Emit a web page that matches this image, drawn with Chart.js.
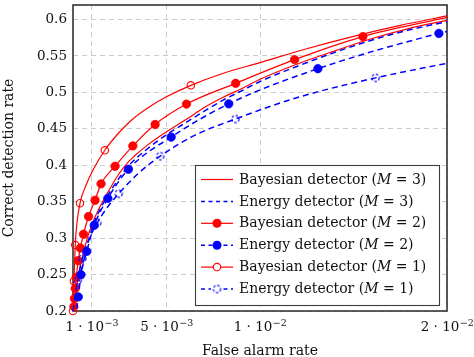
<!DOCTYPE html>
<html><head><meta charset="utf-8">
<script src="https://cdn.jsdelivr.net/npm/chart.js@4.4.1/dist/chart.umd.min.js"></script>
<style>html,body{margin:0;padding:0;background:#fff;}canvas{display:block;}</style>
</head><body>
<canvas id="c" width="474" height="357"></canvas>
<script>
// ---- axis ticks / titles ----
const xTicks = [0.001, 0.005, 0.01, 0.02];
const xTickMantissas = ['1', '5', '1', '2'];
const xTickExponents = ['\u22123', '\u22123', '\u22122', '\u22122'];
const yTicks = [0.2, 0.25, 0.3, 0.35, 0.4, 0.45, 0.5, 0.55, 0.6];
const yTickLabels = ['0.2', '0.25', '0.3', '0.35', '0.4', '0.45', '0.5', '0.55', '0.6'];
const xTitle = 'False alarm rate';
const yTitle = 'Correct detection rate';

// ---- legend ----
const seriesNames = ['Bayesian detector', 'Energy detector', 'Bayesian detector', 'Energy detector', 'Bayesian detector', 'Energy detector'];
const seriesM = ['3', '3', '2', '2', '1', '1'];

// ---- series ----
const bayesM3X = [0, 0.0001, 0.0003, 0.0006, 0.001, 0.0014, 0.0018, 0.0024, 0.0029, 0.0033, 0.004, 0.005, 0.006, 0.007, 0.008, 0.009, 0.01, 0.012, 0.014, 0.016, 0.018, 0.02];
const bayesM3Y = [0.2, 0.218, 0.25, 0.285, 0.318, 0.341, 0.36, 0.386, 0.403, 0.413, 0.428, 0.446, 0.462, 0.479, 0.493, 0.505, 0.518, 0.539, 0.557, 0.574, 0.588, 0.599];
const bayesM3Marks = [];

const energyM3X = [0, 0.0001, 0.0003, 0.0006, 0.001, 0.0014, 0.0018, 0.0024, 0.003, 0.004, 0.005, 0.006, 0.007, 0.008, 0.009, 0.01, 0.012, 0.014, 0.016, 0.018, 0.02];
const energyM3Y = [0.2, 0.21, 0.238, 0.272, 0.312, 0.337, 0.356, 0.38, 0.4, 0.423, 0.442, 0.458, 0.474, 0.489, 0.502, 0.515, 0.536, 0.555, 0.572, 0.586, 0.597];
const energyM3Marks = [];

const bayesM2X = [0.000048, 0.000075, 0.000118, 0.000177, 0.000279, 0.000391, 0.000562, 0.00083, 0.00118, 0.0015, 0.00225, 0.0032, 0.00439, 0.00607, 0.0087, 0.01185, 0.0155, 0.02];
const bayesM2Y = [0.206, 0.217, 0.231, 0.2465, 0.269, 0.2864, 0.3054, 0.3297, 0.352, 0.3745, 0.3986, 0.4266, 0.456, 0.484, 0.5125, 0.545, 0.5766, 0.603];
const bayesM2Marks = bayesM2X.filter(x => x < 0.02);

const energyM2X = [0.00019, 0.000284, 0.000428, 0.000734, 0.001136, 0.001864, 0.002962, 0.005249, 0.008329, 0.013096, 0.019566, 0.02];
const energyM2Y = [0.203, 0.2194, 0.2498, 0.2818, 0.3177, 0.3546, 0.3946, 0.4387, 0.4843, 0.5326, 0.581, 0.5835];
const energyM2Marks = energyM2X.filter(x => x > 0.0002 && x < 0.02);

const bayesM1X = [0, 0.00005, 0.00012, 0.0002, 0.000375, 0.0007, 0.0011, 0.0017, 0.0025, 0.0032, 0.0042, 0.005, 0.0063, 0.008, 0.01, 0.0125, 0.015, 0.0175, 0.02];
const bayesM1Y = [0.2, 0.241, 0.2905, 0.318, 0.348, 0.373, 0.395, 0.4206, 0.446, 0.4636, 0.482, 0.494, 0.5097, 0.526, 0.541, 0.56, 0.577, 0.592, 0.605];
const bayesM1Marks = [0, 0.00005, 0.00012, 0.000375, 0.0017, 0.0063];

const energyM1X = [0, 0.0001, 0.00025, 0.0005, 0.0008, 0.0013, 0.0018, 0.00244, 0.0035, 0.00466, 0.0065, 0.00868, 0.012, 0.01618, 0.02];
const energyM1Y = [0.2, 0.217, 0.242, 0.272, 0.295, 0.321, 0.341, 0.361, 0.389, 0.4125, 0.441, 0.4635, 0.493, 0.52, 0.54];
const energyM1Marks = [0.00025, 0.0005, 0.0013, 0.00244, 0.00466, 0.00868, 0.01618];

// ---- styles ----
const RED = 'rgb(255,0,0)';
const BLUE = 'rgb(0,0,255)';
const FONT = '"DejaVu Serif", serif';

function dashedCircle(color) {
  const c = document.createElement('canvas');
  c.width = 11; c.height = 11;
  const g = c.getContext('2d');
  g.strokeStyle = color; g.lineWidth = 1.2; g.setLineDash([2.4, 1.8]);
  g.beginPath(); g.arc(5.5, 5.5, 3.6, 0, Math.PI * 2); g.stroke();
  return c;
}
const dashedMarker = dashedCircle(BLUE);

const styles = [
  {color: RED, dash: [], width: 1.2, marker: null},
  {color: BLUE, dash: [6, 4], width: 1.5, marker: null},
  {color: RED, dash: [], width: 1.2, marker: 'filled'},
  {color: BLUE, dash: [6, 4], width: 1.5, marker: 'filled'},
  {color: RED, dash: [], width: 1.2, marker: 'open'},
  {color: BLUE, dash: [6, 4], width: 1.5, marker: 'dashed'}
];

const seriesData = [
  [bayesM3X, bayesM3Y, bayesM3Marks],
  [energyM3X, energyM3Y, energyM3Marks],
  [bayesM2X, bayesM2Y, bayesM2Marks],
  [energyM2X, energyM2Y, energyM2Marks],
  [bayesM1X, bayesM1Y, bayesM1Marks],
  [energyM1X, energyM1Y, energyM1Marks]
];

function markerRadius(m) { return m === 'filled' ? 4.2 : (m === 'open' ? 3.7 : (m === 'dashed' ? 3.6 : 0)); }

const datasets = seriesData.map(([xs, ys, marks], i) => {
  const st = styles[i];
  const isMarked = ctx => ctx.raw && marks.includes(ctx.raw.x);
  return {
    label: seriesNames[i] + ' (M = ' + seriesM[i] + ')',
    data: xs.map((x, k) => ({x: x, y: ys[k]})),
    showLine: true,
    borderColor: st.color,
    borderWidth: st.width,
    borderDash: st.dash,
    cubicInterpolationMode: 'monotone',
    fill: false,
    clip: false,
    order: 5 - i,
    pointRadius: ctx => isMarked(ctx) ? markerRadius(st.marker) : 0,
    pointHoverRadius: 0,
    pointStyle: ctx => (st.marker === 'dashed' && isMarked(ctx)) ? dashedMarker : 'circle',
    pointBackgroundColor: st.marker === 'filled' ? st.color : 'rgba(0,0,0,0)',
    pointBorderColor: st.color,
    pointBorderWidth: st.marker === 'filled' ? 0.8 : 1.1
  };
});

const framePlugin = {
  id: 'frame',
  beforeDatasetsDraw(chart) {
    const {ctx, chartArea: a} = chart;
    ctx.save();
    ctx.strokeStyle = '#333333';
    ctx.lineWidth = 1.6;
    ctx.strokeRect(a.left, a.top, a.right - a.left, a.bottom - a.top);
    ctx.restore();
  },
  afterDatasetsDraw(chart) {
    const ctx = chart.ctx;
    // x tick labels with superscript exponents
    const xs = chart.scales.x;
    ctx.save();
    ctx.fillStyle = '#111';
    ctx.textBaseline = 'alphabetic';
    xTicks.forEach((v, i) => {
      const main = xTickMantissas[i] + ' \u00B7 10';
      const sup = xTickExponents[i];
      ctx.font = '13.5px ' + FONT;
      const w1 = ctx.measureText(main).width;
      ctx.font = '9.5px ' + FONT;
      const w2 = ctx.measureText(sup).width;
      const px = xs.getPixelForValue(v);
      const left = px - (w1 + w2) / 2;
      ctx.font = '13.5px ' + FONT;
      ctx.textAlign = 'left';
      ctx.fillText(main, left, 331);
      ctx.font = '9.5px ' + FONT;
      ctx.fillText(sup, left + w1 + 0.5, 325.5);
    });
    ctx.restore();

    // legend
    const bx = 195, by = 165, bw = 244, bh = 140;
    ctx.save();
    ctx.fillStyle = '#fff';
    ctx.fillRect(bx, by, bw, bh);
    ctx.strokeStyle = '#3c3c3c';
    ctx.lineWidth = 1.1;
    ctx.strokeRect(bx + 0.5, by + 0.5, bw, bh);
    for (let i = 0; i < 6; i++) {
      const y = 179.5 + i * 21.9;
      const st = styles[i];
      ctx.strokeStyle = st.color;
      ctx.lineWidth = st.width;
      ctx.setLineDash(st.dash.length ? [4, 3.5] : []);
      ctx.beginPath(); ctx.moveTo(201, y); ctx.lineTo(233, y); ctx.stroke();
      ctx.setLineDash([]);
      if (st.marker === 'filled') {
        ctx.fillStyle = st.color;
        ctx.beginPath(); ctx.arc(217, y, 4.5, 0, Math.PI * 2); ctx.fill();
      } else if (st.marker === 'open') {
        ctx.fillStyle = '#fff';
        ctx.lineWidth = 1.1;
        ctx.beginPath(); ctx.arc(217, y, 3.7, 0, Math.PI * 2); ctx.fill(); ctx.stroke();
      } else if (st.marker === 'dashed') {
        ctx.fillStyle = '#fff';
        ctx.fillRect(211, y - 5, 12, 10);
        ctx.drawImage(dashedMarker, 217 - 5.5, y - 5.5);
      }
      // text
      ctx.fillStyle = '#111';
      ctx.textBaseline = 'middle';
      ctx.textAlign = 'left';
      let tx = 239;
      const parts = [[seriesNames[i] + ' (', ''], ['M', 'italic '], [' = ' + seriesM[i] + ')', '']];
      parts.forEach(([t, s]) => {
        ctx.font = s + '14px ' + FONT;
        ctx.fillText(t, tx, y + 0.5);
        tx += ctx.measureText(t).width;
      });
    }
    ctx.restore();
  }
};

new Chart(document.getElementById('c'), {
  type: 'scatter',
  data: {datasets},
  options: {
    responsive: false,
    animation: false,
    devicePixelRatio: 1,
    layout: {padding: {top: 1, right: 27, left: 0, bottom: 0}},
    plugins: {legend: {display: false}, tooltip: {enabled: false}},
    scales: {
      x: {
        type: 'linear', min: 0, max: 0.02,
        afterBuildTicks: s => { s.ticks = xTicks.map(v => ({value: v})); },
        afterFit: s => { s.height = 46; s.paddingLeft = 0; s.paddingRight = 0; },
        ticks: {display: false},
        grid: {color: '#cccccc', lineWidth: 1, drawTicks: false},
        border: {display: false, dash: [5, 4]},
        title: {display: true, text: xTitle, color: '#111', font: {family: FONT, size: 14}, padding: {top: 0, bottom: -3}}
      },
      y: {
        type: 'linear', min: 0.2, max: 0.62,
        afterBuildTicks: s => { s.ticks = yTicks.map(v => ({value: v})); },
        afterFit: s => { s.width = 73; s.paddingTop = 0; s.paddingBottom = 0; },
        ticks: {
          color: '#111', padding: 6, font: {family: FONT, size: 13.5},
          callback: (v, i) => yTickLabels[i]
        },
        grid: {color: '#cccccc', lineWidth: 1, drawTicks: false},
        border: {display: false, dash: [5, 4]},
        title: {display: true, text: yTitle, color: '#111', font: {family: FONT, size: 14}, padding: {top: 1, bottom: 0}}
      }
    }
  },
  plugins: [framePlugin]
});
</script>
</body></html>
